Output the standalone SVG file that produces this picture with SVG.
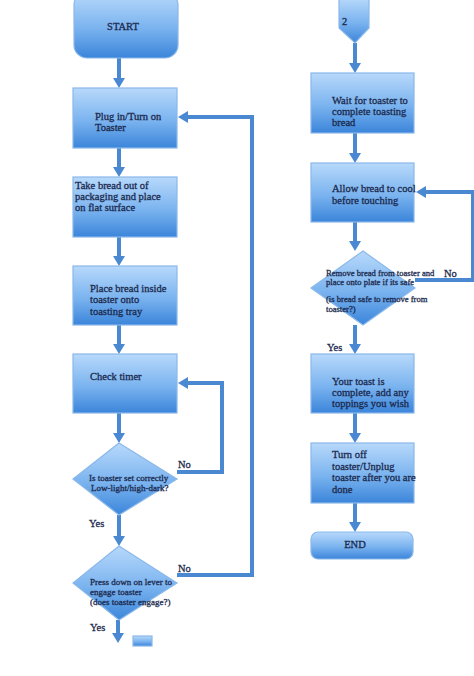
<svg xmlns="http://www.w3.org/2000/svg" width="474" height="676" viewBox="0 0 474 676">
<defs>
<linearGradient id="g" x1="0" y1="0" x2="0" y2="1">
<stop offset="0" stop-color="#b8d9fb"/>
<stop offset="0.55" stop-color="#7ab3ef"/>
<stop offset="1" stop-color="#3b85da"/>
</linearGradient>
<marker id="ah" markerUnits="userSpaceOnUse" viewBox="0 0 10 12" markerWidth="10" markerHeight="12" refX="4" refY="6" orient="auto">
<path d="M0,0 L10,6 L0,12 z" fill="#4a88d2"/>
</marker>
</defs>
<style>
.n{fill:url(#g);stroke:#8ab8ea;stroke-width:1.2}
.t,.s,.xs{font-family:"Liberation Serif","Times New Roman",serif;fill:#1b2a4e;stroke:#1b2a4e;stroke-width:0.3}
.t{font-size:10.5px}
.s{font-size:9px}
.xs{font-size:8.6px}
.c{fill:none;stroke:#4a88d2;stroke-width:4;marker-end:url(#ah)}
</style>
<rect width="474" height="676" fill="#ffffff"/>
<g id="connectors">
<path class="c" d="M119,58 V82"/>
<path class="c" d="M119,148 V171"/>
<path class="c" d="M119,237 V260"/>
<path class="c" d="M119,325 V348"/>
<path class="c" d="M119,413 V437"/>
<path class="c" d="M119,515 V540"/>
<path class="c" d="M177,472 H222 V383 H184"/>
<path class="c" d="M177,575 H252 V117 H184"/>
<path class="c" d="M118,620 V637"/>
<path class="c" d="M355,43 V67"/>
<path class="c" d="M355,133 V157"/>
<path class="c" d="M355,222 V245"/>
<path class="c" d="M415,280 H473 V192 H422"/>
<path class="c" d="M355,325 V348"/>
<path class="c" d="M355,413 V437"/>
<path class="c" d="M355,503 V526"/>
</g>
<g id="start">
<rect class="n" x="74" y="-8" width="104" height="66" rx="13"/>
<text class="t" x="123" y="30" text-anchor="middle">START</text>
</g>
<g id="plug">
<rect class="n" x="73" y="88" width="104" height="60"/>
<text class="t" x="95" y="120">Plug in/Turn on</text>
<text class="t" x="95" y="131">Toaster</text>
</g>
<g id="take">
<rect class="n" x="73" y="177" width="104" height="60"/>
<text class="t" x="75" y="189">Take bread out of</text>
<text class="t" x="75" y="200">packaging and place</text>
<text class="t" x="75" y="211">on flat surface</text>
</g>
<g id="place">
<rect class="n" x="73" y="266" width="104" height="59"/>
<text class="t" x="90" y="292">Place bread inside</text>
<text class="t" x="90" y="303">toaster onto</text>
<text class="t" x="90" y="315">toasting tray</text>
</g>
<g id="check">
<rect class="n" x="73" y="354" width="104" height="59"/>
<text class="t" x="90" y="380">Check timer</text>
</g>
<g id="d1">
<polygon class="n" points="119,443 177,479 119,515 73,479"/>
<text class="s" x="89" y="481">Is toaster set correctly</text>
<text class="s" x="91" y="491">Low-light/high-dark?</text>
</g>
<g id="d2">
<polygon class="n" points="119,546 177,583 119,620 73,583"/>
<text class="s" x="90" y="585">Press down on lever to</text>
<text class="s" x="90" y="595">engage toaster</text>
<text class="s" x="90" y="605">(does toaster engage?)</text>
</g>
<g id="stub">
<rect class="n" x="133" y="636" width="19" height="10"/>
</g>
<g id="c2">
<polygon class="n" points="339,-2 369,-2 369,28 355,43 339,28"/>
<text class="t" x="342" y="25">2</text>
</g>
<g id="wait">
<rect class="n" x="311" y="73" width="103" height="60"/>
<text class="t" x="332" y="104">Wait for toaster to</text>
<text class="t" x="332" y="115">complete toasting</text>
<text class="t" x="332" y="126">bread</text>
</g>
<g id="allow">
<rect class="n" x="311" y="163" width="103" height="59"/>
<text class="t" x="332" y="192">Allow bread to cool</text>
<text class="t" x="332" y="204">before touching</text>
</g>
<g id="d3">
<polygon class="n" points="363,251 415,288 363,325 311,288"/>
<text class="xs" x="326" y="276">Remove bread from toaster and</text>
<text class="xs" x="326" y="285">place onto plate if its safe</text>
<text class="xs" x="326" y="302">(is bread safe to remove from</text>
<text class="xs" x="326" y="312">toaster?)</text>
</g>
<g id="toast">
<rect class="n" x="311" y="354" width="103" height="59"/>
<text class="t" x="332" y="385">Your toast is</text>
<text class="t" x="332" y="396">complete, add any</text>
<text class="t" x="332" y="407">toppings you wish</text>
</g>
<g id="off">
<rect class="n" x="311" y="443" width="103" height="60"/>
<text class="t" x="332" y="458">Turn off</text>
<text class="t" x="332" y="470">toaster/Unplug</text>
<text class="t" x="332" y="481">toaster after you are</text>
<text class="t" x="332" y="493">done</text>
</g>
<g id="end">
<rect class="n" x="311" y="532" width="102" height="27" rx="7"/>
<text class="t" x="355" y="548" text-anchor="middle">END</text>
</g>
<g id="labels">
<text class="t" x="178" y="468">No</text>
<text class="t" x="89" y="527">Yes</text>
<text class="t" x="178" y="572">No</text>
<text class="t" x="90" y="631">Yes</text>
<text class="t" x="444" y="277">No</text>
<text class="t" x="327" y="351">Yes</text>
</g>
</svg>
